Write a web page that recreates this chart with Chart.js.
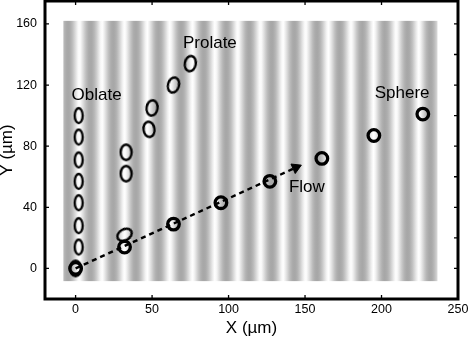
<!DOCTYPE html>
<html>
<head>
<meta charset="utf-8">
<script src="https://cdn.jsdelivr.net/npm/chart.js@4.4.1/dist/chart.umd.min.js"></script>
<style>
  html, body { margin: 0; padding: 0; background: #fff; }
</style>
</head>
<body>
<canvas id="myChart" width="474" height="339"></canvas>
<script>
// values (µm)
const sphereX = [0, 32, 64, 95, 127, 161, 195, 227];
const sphereY = [0, 14, 29, 43, 57, 72, 87, 101];
const oblateX = [2, 2, 2, 2, 2, 2, 2];
const oblateY = [14, 28, 43, 57, 71, 86, 100];
const prolateX = [0, 32, 33, 33, 48, 50, 64, 75];
const prolateY = [0, 22, 62, 76, 91, 105, 120, 134];
const flowX = [0, 144];
const flowY = [0, 66];
const xTicks = [0, 50, 100, 150, 200, 250];
const yTicks = [0, 40, 80, 120, 160];
const labels = ['Oblate', 'Prolate', 'Sphere', 'Flow'];

const toPts = (xs, ys) => xs.map((x, i) => ({ x: x, y: ys[i] }));

// little canvases used as ellipse point styles
function ellipseImage(w, h, lw) {
  const c = document.createElement('canvas');
  c.width = w + lw * 2;
  c.height = h + lw * 2;
  const g = c.getContext('2d');
  g.strokeStyle = '#000';
  g.lineWidth = lw;
  g.beginPath();
  g.ellipse(c.width / 2, c.height / 2, w / 2, h / 2, 0, 0, Math.PI * 2);
  g.stroke();
  return c;
}
const oblateImg = ellipseImage(8, 15, 2.3);
const prolateImg = ellipseImage(11, 15.5, 2.4);

// striped background, axis frame, inward ticks and text labels
const decor = {
  id: 'decor',
  beforeDatasetsDraw(chart) {
    const { ctx, scales: { x, y } } = chart;
    const x0 = x.getPixelForValue(-8), x1 = x.getPixelForValue(236.6);
    const y0 = y.getPixelForValue(162), y1 = y.getPixelForValue(-8.3);
    const grad = ctx.createLinearGradient(x0, 0, x1, 0);
    const period = 14.8, phase = -5;
    const steps = 240;
    for (let i = 0; i <= steps; i++) {
      const v = -8 + (236.6 + 8) * i / steps;
      const t = 0.5 + 0.5 * Math.cos((v - phase) / period * Math.PI * 2);
      const c = Math.round(255 - 88 * Math.pow(t, 0.7));
      grad.addColorStop(i / steps, `rgb(${c},${c},${c})`);
    }
    ctx.save();
    ctx.fillStyle = grad;
    ctx.fillRect(x0, y0, x1 - x0, y1 - y0);
    ctx.restore();
  },
  afterDatasetsDraw(chart) {
    const { ctx, chartArea: a, scales: { x, y } } = chart;
    ctx.save();
    // text labels
    ctx.fillStyle = '#000';
    ctx.font = '17px "Liberation Sans", Arial, sans-serif';
    ctx.textAlign = 'center';
    ctx.textBaseline = 'middle';
    const spots = [[13.7, 113.4], [87.8, 147.1], [213.5, 114.5], [151.2, 52.9]];
    labels.forEach((t, i) => {
      ctx.fillText(t, x.getPixelForValue(spots[i][0]), y.getPixelForValue(spots[i][1]));
    });
    // inward ticks
    ctx.strokeStyle = '#000';
    ctx.lineWidth = 1.3;
    ctx.beginPath();
    xTicks.slice(0, -1).forEach(v => {
      const px = x.getPixelForValue(v);
      ctx.moveTo(px, a.bottom); ctx.lineTo(px, a.bottom - 4);
      ctx.moveTo(px, a.top); ctx.lineTo(px, a.top + 4);
    });
    yTicks.forEach(v => {
      const py = y.getPixelForValue(v);
      ctx.moveTo(a.left, py); ctx.lineTo(a.left + 4, py);
    });
    for (let v = 0; v <= 160; v += 20) {
      const py = y.getPixelForValue(v);
      ctx.moveTo(a.right, py); ctx.lineTo(a.right - 4, py);
    }
    ctx.stroke();
    // frame
    ctx.lineWidth = 3;
    ctx.strokeRect(a.left, a.top, a.right - a.left, a.bottom - a.top);
    ctx.restore();
  }
};

const font = { family: '"Liberation Sans", Arial, sans-serif' };

const ctx = document.getElementById('myChart');
const myChart = new Chart(ctx, {
  type: 'scatter',
  data: {
    datasets: [
      {
        label: 'Flow',
        type: 'line',
        data: toPts(flowX, flowY),
        borderColor: '#000',
        borderWidth: 2.4,
        borderDash: [5, 4],
        backgroundColor: '#000',
        pointStyle: 'triangle',
        pointRadius: [0, 6],
        pointRotation: 66,
        pointBorderWidth: 1,
        fill: false
      },
      {
        label: 'Oblate',
        data: toPts(oblateX, oblateY),
        pointStyle: oblateImg
      },
      {
        label: 'Prolate',
        data: toPts(prolateX, prolateY),
        pointStyle: prolateImg,
        pointRotation: [0, 60, 0, 0, -8, 8, 15, 10]
      },
      {
        label: 'Sphere',
        data: toPts(sphereX, sphereY),
        pointStyle: 'circle',
        pointRadius: 5.8,
        borderColor: '#000',
        borderWidth: 3.3,
        backgroundColor: 'rgba(0,0,0,0)'
      }
    ]
  },
  options: {
    responsive: false,
    maintainAspectRatio: false,
    animation: false,
    events: [],
    layout: { autoPadding: false, padding: { top: 1, right: 16, left: 0, bottom: 0 } },
    plugins: {
      legend: { display: false },
      tooltip: { enabled: false }
    },
    scales: {
      x: {
        type: 'linear',
        min: -20,
        max: 250,
        afterBuildTicks: s => { s.ticks = xTicks.map(v => ({ value: v })); },
        afterFit: s => { s.height = 40; s.paddingLeft = 0; s.paddingRight = 0; },
        grid: { display: false, drawTicks: false },
        border: { display: false },
        ticks: { color: '#000', padding: 3, font: { ...font, size: 12.5 } },
        title: { display: true, text: 'X (µm)', color: '#000', padding: 0, font: { ...font, size: 17 } }
      },
      y: {
        type: 'linear',
        min: -20,
        max: 175,
        afterBuildTicks: s => { s.ticks = yTicks.map(v => ({ value: v })); },
        afterFit: s => { s.width = 45; s.paddingTop = 0; s.paddingBottom = 0; },
        grid: { display: false, drawTicks: false },
        border: { display: false },
        ticks: { color: '#000', padding: 8, font: { ...font, size: 12.5 } },
        title: { display: true, text: 'Y (µm)', color: '#000', padding: { top: -3, bottom: 0 }, font: { ...font, size: 17 } }
      }
    }
  },
  plugins: [decor]
});
</script>
</body>
</html>
